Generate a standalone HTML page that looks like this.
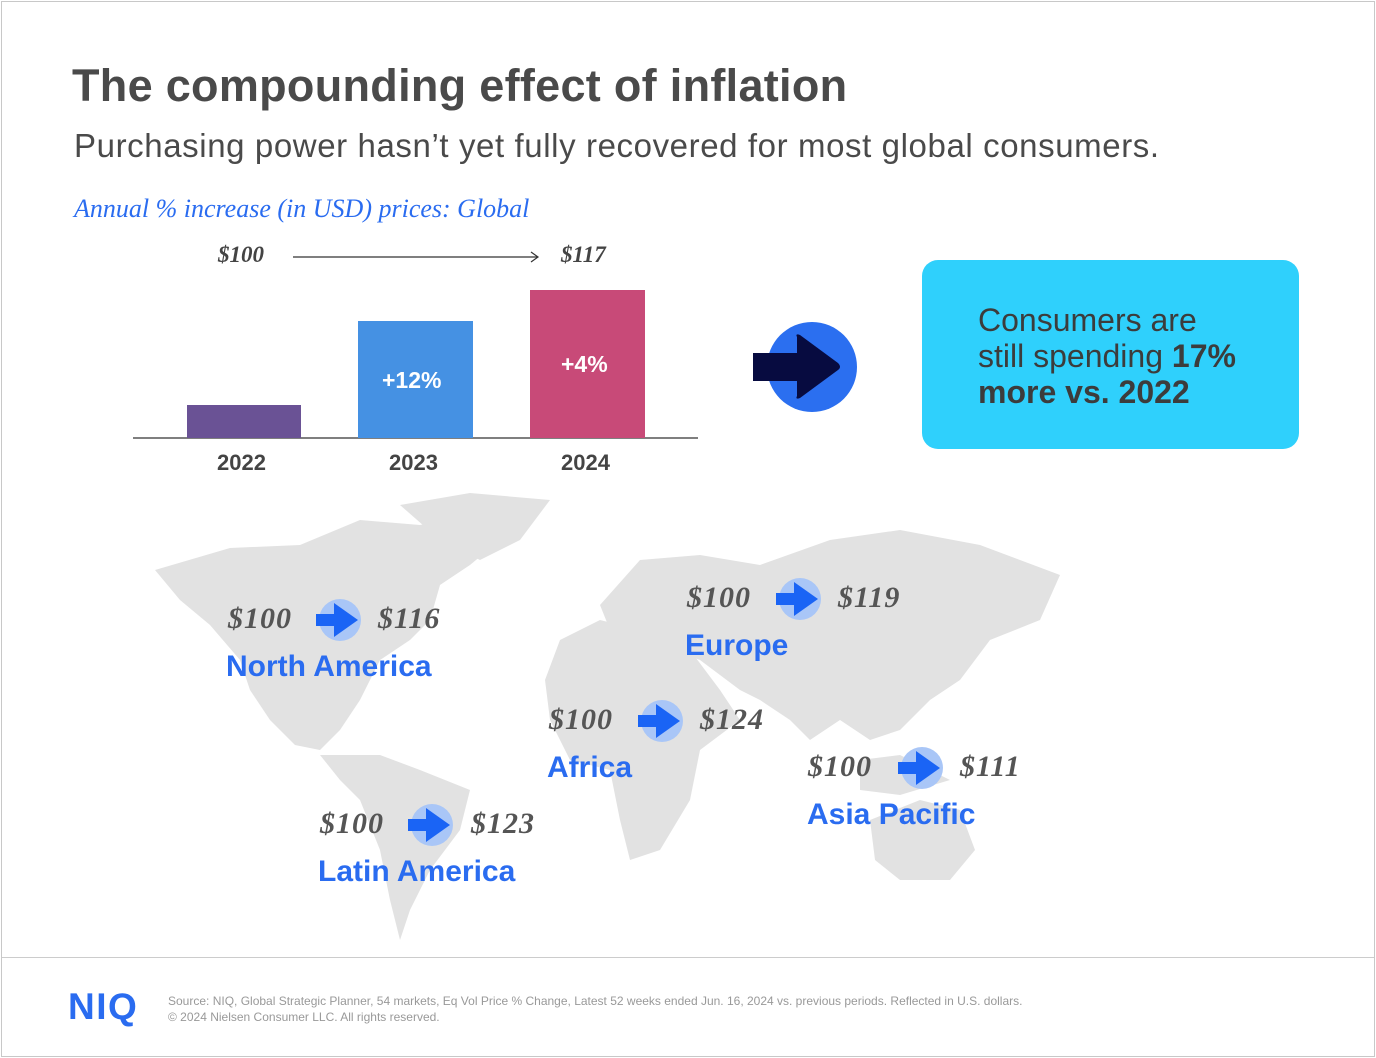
<!DOCTYPE html><html><head><style>
body{margin:0;width:1376px;height:1058px;background:#fff;font-family:"Liberation Sans",sans-serif;position:relative;overflow:hidden}
.a{position:absolute;white-space:nowrap}
.p{font-family:"Liberation Serif",serif;font-style:italic;font-weight:bold;color:#555;font-size:30px;letter-spacing:1px}
.r{color:#2a6cf0;font-weight:bold;font-size:30px}
</style></head><body>
<div class="a" style="left:1px;top:1px;width:1372px;height:1054px;border:1px solid #c8c8c8"></div>
<div class="a" style="left:2px;top:957px;width:1372px;height:1px;background:#ccc"></div>
<div class="a" style="left:72px;top:60px;font-size:45px;font-weight:bold;color:#4a4a4a;letter-spacing:0.3px">The compounding effect of inflation</div>
<div class="a" style="left:74px;top:127px;font-size:33px;color:#4a4a4a;letter-spacing:0.6px">Purchasing power hasn’t yet fully recovered for most global consumers.</div>
<div class="a" style="left:74px;top:194px;font-size:26px;color:#2a6cf0;font-family:'Liberation Serif',serif;font-style:italic">Annual % increase (in USD) prices: Global</div>
<div class="a" style="left:218px;top:242px;font-size:23px;font-family:'Liberation Serif',serif;font-style:italic;font-weight:bold;color:#444">$100</div>
<div class="a" style="left:561px;top:242px;font-size:23px;font-family:'Liberation Serif',serif;font-style:italic;font-weight:bold;color:#444">$117</div>
<svg class="a" style="left:0;top:0" width="1376" height="1058">
<line x1="293" y1="257" x2="537" y2="257" stroke="#333" stroke-width="1.2"/><path d="M531 252 L538 257 L531 262" fill="none" stroke="#333" stroke-width="1.2"/>
<g fill="#e2e2e2">
<path d="M155 570 L230 548 L300 545 L360 520 L420 525 L470 515 L500 540 L470 565 L440 585 L430 620 L410 640 L380 660 L360 700 L340 730 L320 750 L295 745 L270 720 L250 690 L240 660 L210 625 L180 600 Z"/>
<path d="M400 505 L470 493 L550 500 L520 540 L480 560 L440 540 Z"/>
<path d="M320 755 L380 755 L420 770 L470 790 L460 830 L430 870 L410 910 L400 940 L390 900 L380 850 L360 800 L340 780 Z"/>
<path d="M560 640 L600 620 L640 630 L690 650 L720 690 L740 720 L700 750 L690 800 L660 850 L630 860 L620 820 L610 770 L570 760 L550 720 L545 680 Z"/>
<path d="M600 605 L640 560 L700 555 L760 565 L830 540 L900 530 L980 545 L1060 575 L1040 620 L990 640 L960 680 L930 700 L900 730 L870 740 L840 720 L810 740 L790 720 L760 700 L740 690 L700 660 L650 640 L610 630 Z"/>
<path d="M870 820 L920 800 L960 810 L975 850 L950 880 L900 880 L875 860 Z"/>
<path d="M860 760 L900 755 L950 780 L900 795 L860 790 Z"/>
</g>
<line x1="133" y1="438" x2="698" y2="438" stroke="#555" stroke-width="1.5"/>
<rect x="187" y="405" width="114" height="33" fill="#6a5295"/>
<rect x="358" y="321" width="115" height="117" fill="#4591e3"/>
<rect x="530" y="290" width="115" height="148" fill="#c84a78"/>
<circle cx="812" cy="367" r="45" fill="#2b6ff0"/>
<rect x="753" y="353" width="50" height="28" fill="#070b40"/>
<path d="M797 337 Q795 333 800 335 L838 363 Q842 367 838 370 L800 398 Q795 400 797 396 Z" fill="#070b40"/>
<g>
<circle cx="340" cy="620" r="21" fill="#a9c6f7"/><rect x="316" y="614" width="22" height="12" fill="#1a64f5"/><path d="M334 603 L358 620 L334 637 Z" fill="#1a64f5"/>
<circle cx="800" cy="599" r="21" fill="#a9c6f7"/><rect x="776" y="593" width="22" height="12" fill="#1a64f5"/><path d="M794 582 L818 599 L794 616 Z" fill="#1a64f5"/>
<circle cx="662" cy="721" r="21" fill="#a9c6f7"/><rect x="638" y="715" width="22" height="12" fill="#1a64f5"/><path d="M656 704 L680 721 L656 738 Z" fill="#1a64f5"/>
<circle cx="922" cy="768" r="21" fill="#a9c6f7"/><rect x="898" y="762" width="22" height="12" fill="#1a64f5"/><path d="M916 751 L940 768 L916 785 Z" fill="#1a64f5"/>
<circle cx="432" cy="825" r="21" fill="#a9c6f7"/><rect x="408" y="819" width="22" height="12" fill="#1a64f5"/><path d="M426 808 L450 825 L426 842 Z" fill="#1a64f5"/>
</g>
</svg>
<div class="a" style="left:217px;top:450px;font-size:22px;font-weight:bold;color:#444">2022</div>
<div class="a" style="left:389px;top:450px;font-size:22px;font-weight:bold;color:#444">2023</div>
<div class="a" style="left:561px;top:450px;font-size:22px;font-weight:bold;color:#444">2024</div>
<div class="a" style="left:382px;top:367px;font-size:23px;font-weight:bold;color:#fff">+12%</div>
<div class="a" style="left:561px;top:351px;font-size:23px;font-weight:bold;color:#fff">+4%</div>
<div class="a" style="left:922px;top:260px;width:377px;height:189px;background:#2fd0fc;border-radius:16px"></div>
<div class="a" style="left:978px;top:302px;font-size:32px;color:#3c3c3c;line-height:36px">Consumers are<br>still spending <b>17%</b><br><b>more vs. 2022</b></div>
<div class="a p" style="left:228px;top:602px">$100</div><div class="a p" style="left:378px;top:602px">$116</div>
<div class="a r" style="left:226px;top:650px">North America</div>
<div class="a p" style="left:687px;top:581px">$100</div><div class="a p" style="left:838px;top:581px">$119</div>
<div class="a r" style="left:685px;top:629px">Europe</div>
<div class="a p" style="left:549px;top:703px">$100</div><div class="a p" style="left:700px;top:703px">$124</div>
<div class="a r" style="left:547px;top:751px">Africa</div>
<div class="a p" style="left:808px;top:750px">$100</div><div class="a p" style="left:960px;top:750px">$111</div>
<div class="a r" style="left:807px;top:798px">Asia Pacific</div>
<div class="a p" style="left:320px;top:807px">$100</div><div class="a p" style="left:471px;top:807px">$123</div>
<div class="a r" style="left:318px;top:855px">Latin America</div>
<div class="a" style="left:68px;top:986px;font-size:37px;font-weight:bold;color:#2a6cf0;letter-spacing:1.5px">NIQ</div>
<div class="a" style="left:168px;top:993px;font-size:12px;color:#999;line-height:16px">Source: NIQ, Global Strategic Planner, 54 markets, Eq Vol Price % Change, Latest 52 weeks ended Jun. 16, 2024 vs. previous periods. Reflected in U.S. dollars.<br>© 2024 Nielsen Consumer LLC. All rights reserved.</div>
</body></html>
